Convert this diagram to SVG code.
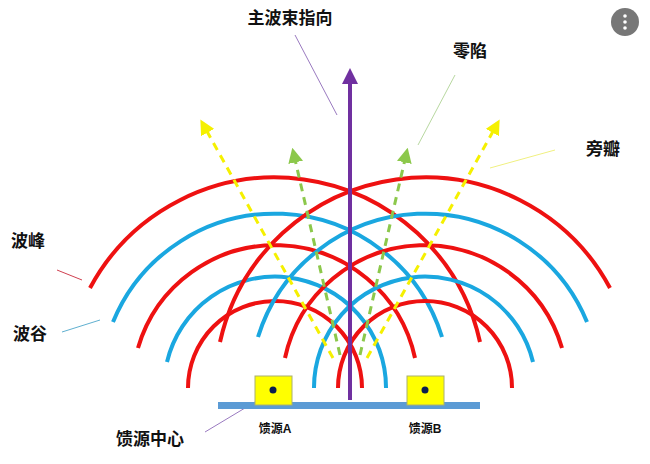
<svg xmlns="http://www.w3.org/2000/svg" width="650" height="464" viewBox="0 0 650 464">
<style>
.r{fill:none;stroke:#ee1111;stroke-width:4}
.b{fill:none;stroke:#1aa7e0;stroke-width:4}
.t{font-family:"Liberation Sans","Noto Sans CJK SC",sans-serif;font-weight:bold;fill:#111}
.l{stroke-width:1}
</style>
<defs>
<marker id="ay" viewBox="0 0 10 10" refX="5" refY="5" markerWidth="5" markerHeight="5" orient="auto"><path d="M0,0L10,5L0,10z" fill="#f5f000"/></marker>
<marker id="ag" viewBox="0 0 10 10" refX="5" refY="5" markerWidth="5" markerHeight="5" orient="auto"><path d="M0,0L10,5L0,10z" fill="#8cc84b"/></marker>
<marker id="ap" viewBox="0 0 10 10" refX="5" refY="5" markerWidth="4" markerHeight="4" orient="auto"><path d="M0,0L10,5L0,10z" fill="#7030a0"/></marker>
</defs>
<rect width="650" height="464" fill="#fff"/>
<g id="waves">
<path class="r" d="M188,388A87,87 0 0 1 362,388"/>
<path class="b" d="M167,362A111,111 0 0 1 386,388"/>
<path class="r" d="M138,348A143,143 0 0 1 415,358"/>
<path class="b" d="M113,322A175,175 0 0 1 442,337"/>
<path class="r" d="M90,288A210,210 0 0 1 480,342"/>
<path class="r" d="M338,388A87,87 0 0 1 512,388"/>
<path class="b" d="M314,388A111,111 0 0 1 533,362"/>
<path class="r" d="M285,358A143,143 0 0 1 562,348"/>
<path class="b" d="M258,337A175,175 0 0 1 587,322"/>
<path class="r" d="M220,342A210,210 0 0 1 610,288"/>
</g>
<g id="connectors">
<g stroke-width="3" stroke-dasharray="8,6" fill="none">
<line x1="333" y1="358" x2="204" y2="126" stroke="#f5f000" marker-end="url(#ay)"/>
<line x1="367" y1="358" x2="496" y2="126" stroke="#f5f000" marker-end="url(#ay)"/>
<line x1="340" y1="355" x2="294" y2="155" stroke="#8cc84b" marker-end="url(#ag)"/>
<line x1="360" y1="355" x2="406" y2="155" stroke="#8cc84b" marker-end="url(#ag)"/>
</g>
<line x1="350" y1="400" x2="350" y2="76" stroke="#7030a0" stroke-width="4" marker-end="url(#ap)"/>
<line class="l" x1="295" y1="35" x2="337" y2="115" stroke="#9a7ac0"/>
<line class="l" x1="455" y1="75" x2="418" y2="145" stroke="#b8d8a0"/>
<line class="l" x1="555" y1="150" x2="490" y2="168" stroke="#f0f080"/>
<line class="l" x1="57" y1="270" x2="82" y2="280" stroke="#d04050"/>
<line class="l" x1="62" y1="332" x2="100" y2="320" stroke="#60b0d0"/>
<line class="l" x1="205" y1="432" x2="265" y2="396" stroke="#9a7ac0"/>
</g>
<g id="base"><rect x="218" y="402" width="262" height="7" fill="#5b9bd5"/></g>
<g id="feedA"><rect x="255" y="376" width="37" height="29" fill="#ffff00" stroke="#aab070"/><circle cx="273" cy="390" r="3.5" fill="#0b1d50"/><text class="t" x="275" y="433" font-size="12" text-anchor="middle">馈源A</text></g>
<g id="feedB"><rect x="407" y="376" width="37" height="29" fill="#ffff00" stroke="#aab070"/><circle cx="425" cy="390" r="3.5" fill="#0b1d50"/><text class="t" x="425" y="433" font-size="12" text-anchor="middle">馈源B</text></g>
<g id="labels">
<text class="t" x="290" y="24" font-size="17" text-anchor="middle">主波束指向</text>
<text class="t" x="470" y="57" font-size="17" text-anchor="middle">零陷</text>
<text class="t" x="603" y="155" font-size="17" text-anchor="middle">旁瓣</text>
<text class="t" x="28" y="247" font-size="17" text-anchor="middle">波峰</text>
<text class="t" x="30" y="340" font-size="17" text-anchor="middle">波谷</text>
<text class="t" x="150" y="445" font-size="17" text-anchor="middle">馈源中心</text>
</g>
<g id="menu"><circle cx="625" cy="22" r="14" fill="#777"/><circle cx="625" cy="16" r="1.8" fill="#fff"/><circle cx="625" cy="22" r="1.8" fill="#fff"/><circle cx="625" cy="28" r="1.8" fill="#fff"/></g>
</svg>
